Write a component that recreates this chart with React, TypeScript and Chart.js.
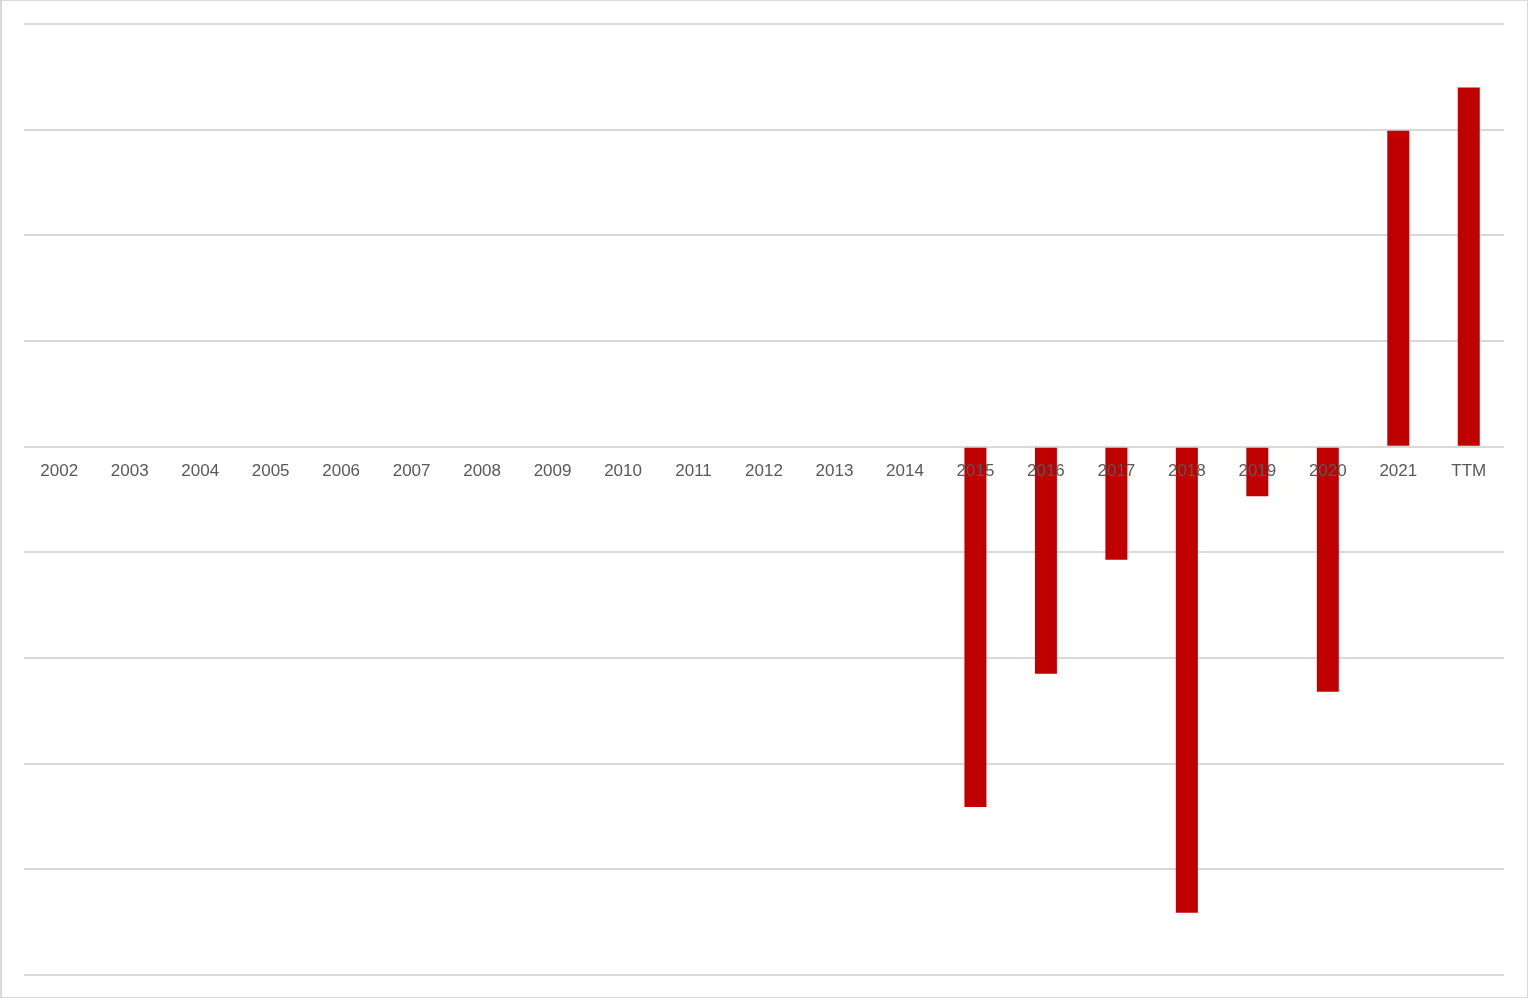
import { useEffect, useRef } from 'react';
import { Chart, registerables } from 'chart.js';

Chart.register(...registerables);

const years = [
  '2002', '2003', '2004', '2005', '2006', '2007', '2008', '2009', '2010', '2011',
  '2012', '2013', '2014', '2015', '2016', '2017', '2018', '2019', '2020', '2021', 'TTM'
];
// values, one gridline = 1 unit
const values: (number | null)[] = [
  null, null, null, null, null, null, null, null, null, null,
  null, null, null, -3.41, -2.15, -1.07, -4.41, -0.47, -2.32, 2.99, 3.4
];
const yMin = -5;
const yMax = 4;

export default function App() {
  const ref = useRef<HTMLCanvasElement | null>(null);

  useEffect(() => {
    document.body.style.margin = '0';
    if (!ref.current) return;
    const grid = '#d9d9d9';
    const chart = new Chart(ref.current, {
      type: 'bar',
      data: {
        labels: years,
        datasets: [
          {
            data: values,
            backgroundColor: '#c00000',
            borderWidth: 0,
            categoryPercentage: 1,
            barPercentage: 0.312
          }
        ]
      },
      options: {
        animation: false,
        responsive: false,
        maintainAspectRatio: false,
        layout: { padding: { left: 22, right: 23, top: 23, bottom: 22 } },
        plugins: { legend: { display: false }, tooltip: { enabled: false } },
        scales: {
          x: {
            position: { y: 0 },
            grid: { display: false, drawTicks: false },
            border: { display: false },
            ticks: {
              z: 1, // labels sit on top of the bars, as in Excel
              color: '#595959',
              font: { family: 'Liberation Sans', size: 17 },
              padding: 14,
              maxRotation: 0,
              autoSkip: false
            }
          },
          y: {
            min: yMin,
            max: yMax,
            grid: { color: grid, lineWidth: 2, drawTicks: false },
            border: { display: false },
            ticks: { display: false, stepSize: 1 }
          }
        }
      }
    });
    return () => chart.destroy();
  }, []);

  return (
    <div
      style={{
        width: 1528,
        height: 998,
        boxSizing: 'border-box',
        border: '1px solid #d9d9d9',
        borderLeftWidth: 2,
        background: '#fff',
        position: 'relative'
      }}
    >
      <canvas ref={ref} width={1525} height={996} style={{ display: 'block' }} />
    </div>
  );
}
